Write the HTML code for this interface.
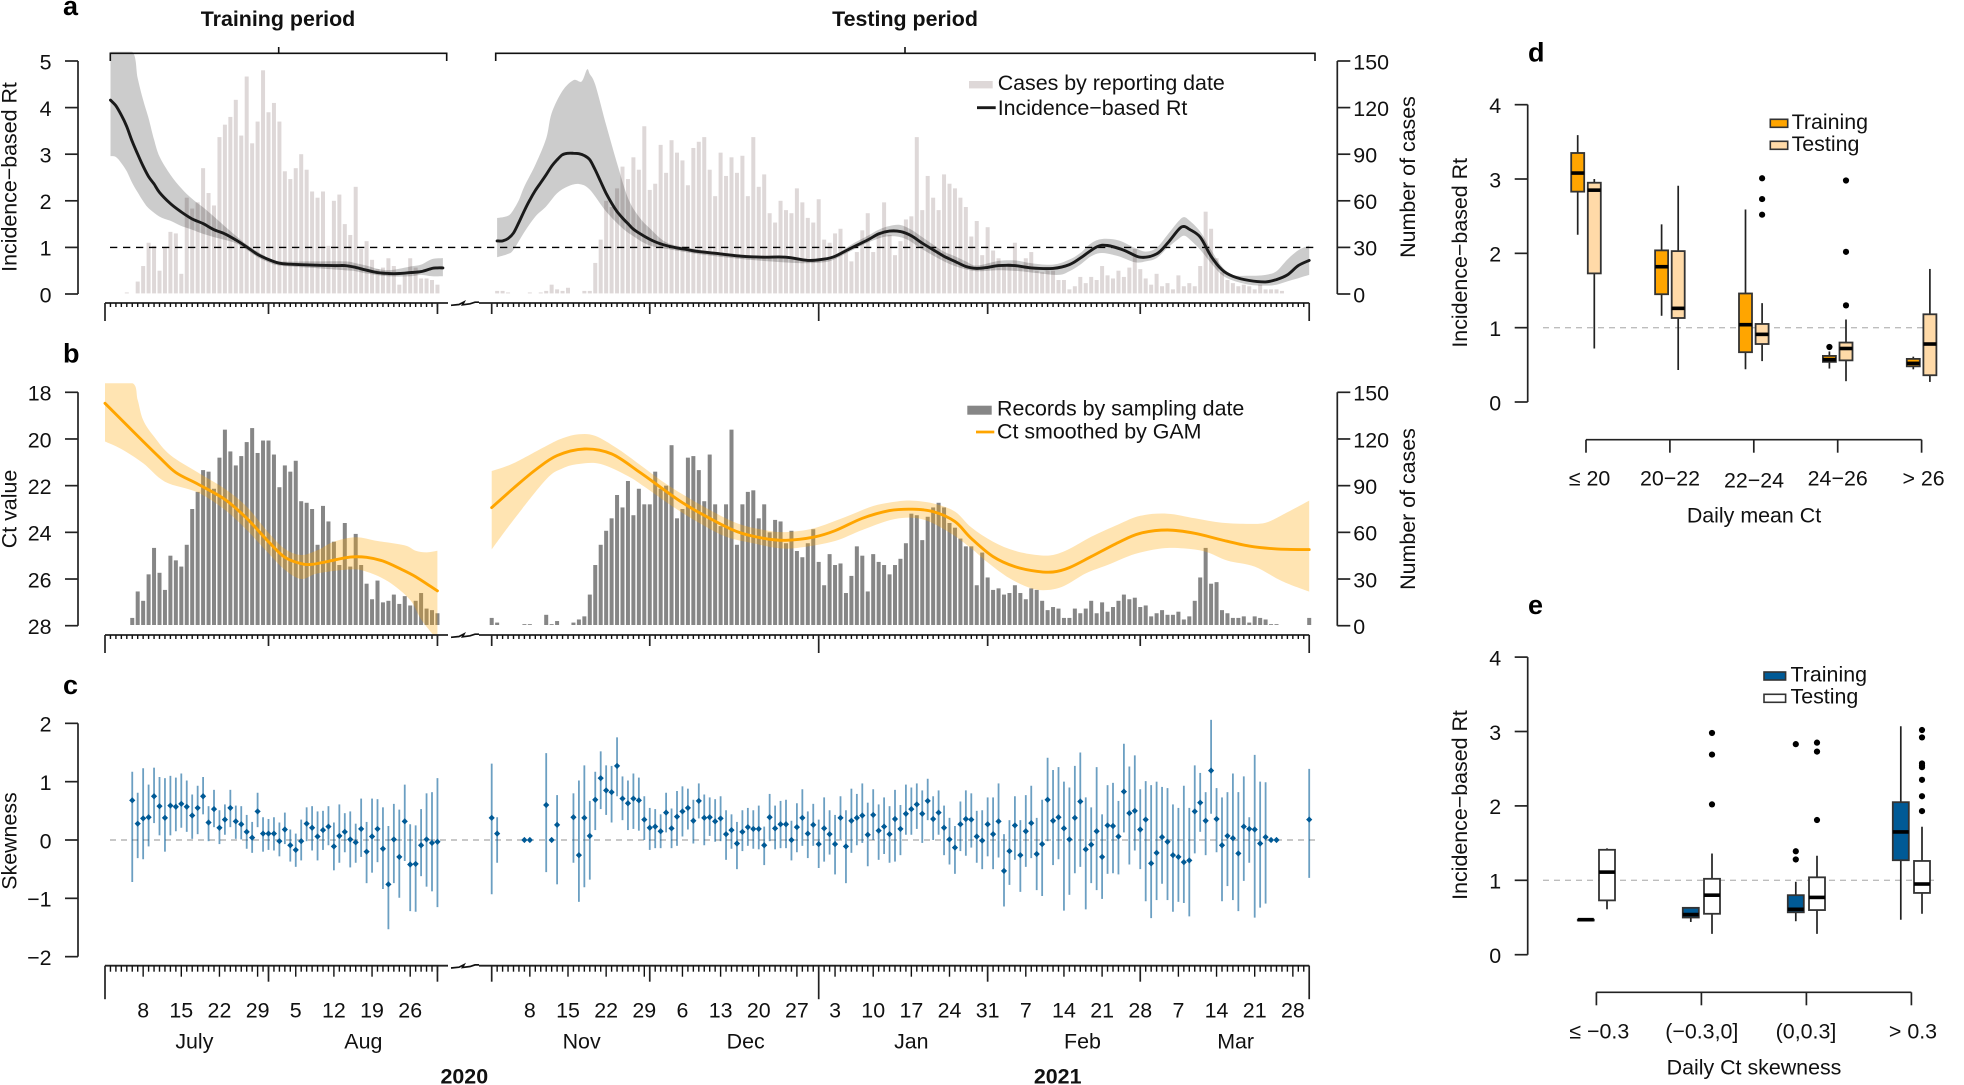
<!DOCTYPE html>
<html lang="en">
<head>
<meta charset="utf-8">
<title>Ct value and incidence-based Rt chart</title>
<style>
html,body{margin:0;padding:0;background:#fff;}
svg{display:block;font-family:"Liberation Sans",Arial,sans-serif;}
text{fill:#111;font-size:21.4px;}
.b{font-weight:bold;}
.p{font-weight:bold;font-size:27px;fill:#000;}
</style>
</head>
<body>
<svg id="chart" xmlns="http://www.w3.org/2000/svg" width="1964" height="1085" viewBox="0 0 1964 1085">
<defs>
<clipPath id="clipA"><rect x="90" y="51.7" width="1240" height="250"/></clipPath>
<clipPath id="clipB"><rect x="90" y="383.3" width="1240" height="251.7"/></clipPath>
</defs>
</svg>
<script>
// ---------- panel a: daily reported cases (index = days since period start)
const casesTrain=[0,0,0,0,1,0,8,18,33,31,15,30,40,39,13,62,55,59,81,65,57,101,109,114,125,102,140,97,111,144,117,123,111,79,74,81,90,80,66,62,66,31,60,64,45,38,69,29,34,22,16,17,23,18,6,12,23,17,10,10,9,6];
const casesTest=[0,2,2,1,0,0,0,1,0,1,2,6,3,2,4,0,0,2,2,20,35,60,56,68,82,74,88,80,108,67,71,96,78,99,91,86,70,94,98,101,80,63,91,76,88,78,89,63,101,69,77,52,46,60,54,52,68,59,49,46,61,35,33,39,42,27,21,27,41,52,27,38,59,38,25,34,48,50,101,54,76,62,54,77,71,68,62,56,37,47,25,43,28,23,19,20,33,17,23,27,15,14,15,15,9,9,3,5,11,7,11,9,18,12,10,15,11,17,29,16,10,6,13,5,7,3,12,5,7,5,18,53,42,23,14,9,7,5,6,5,3,6,3,3,3,2];
// Rt curves, training period
const rtTrainDays=[1,2,3,4,5,6,7,8,9,10,12,14,16,18,20,22,24,26,28,30,32,34,38,42,44,46,48,50,52,54,56,58,60,61,62];
const rtTrainMean=[4.16,4.04,3.84,3.59,3.27,3.0,2.74,2.52,2.36,2.18,1.94,1.76,1.61,1.51,1.38,1.29,1.16,1.01,.85,.74,.66,.64,.62,.61,.61,.57,.51,.46,.44,.44,.46,.48,.55,.56,.56];
const rtTrainHiDays=[1,5,6,7,8,9,10,12,14,16,18,20,22,24,26,28,30,32,38,44,46,48,50,52,54,56,58,60,62];
const rtTrainHi=[5.2,5.2,4.63,4.16,3.77,3.31,2.95,2.56,2.27,2.04,1.86,1.66,1.45,1.25,1.06,.91,.77,.70,.70,.70,.66,.61,.54,.51,.54,.59,.63,.75,.77];
const rtTrainLoDays=[1,2,3,4,5,6,7,8,10,12,14,16,18,20,22,24,26,28,30,32,38,44,46,48,52,56,58,60,62];
const rtTrainLo=[2.96,2.94,2.81,2.63,2.38,2.18,1.99,1.84,1.66,1.57,1.46,1.38,1.29,1.22,1.16,1.09,.95,.79,.68,.61,.56,.51,.49,.44,.38,.38,.41,.38,.38];
// Rt curves, testing period
const rtTestDays=[1,2,3,4,5,6,7,8,9,10,11,12,13,14,15,16,17,18,19,20,21,22,23,24,25,26,28,30,32,34,36,38,42,46,50,54,58,61,63,66,69,71,73,75,77,79,81,83,85,87,89,91,93,96,99,103,106,108,111,113,116,119,122,124,126,127,128,130,132,134,136,139,142,144,146,148,150];
const rtTestMean=[1.14,1.14,1.19,1.31,1.54,1.79,2.02,2.22,2.39,2.56,2.74,2.88,2.99,3.02,3.02,3.01,2.97,2.88,2.66,2.41,2.16,1.95,1.77,1.63,1.51,1.39,1.24,1.12,1.04,.99,.95,.91,.86,.81,.79,.79,.72,.75,.81,.99,1.16,1.29,1.35,1.34,1.25,1.09,.95,.81,.70,.59,.55,.57,.61,.61,.56,.55,.63,.77,1.01,1.04,.94,.79,.86,1.09,1.38,1.45,1.39,1.22,.81,.52,.38,.29,.26,.31,.41,.61,.72];
const rtTestHiDays=[1,3,4,5,6,8,10,11,13,15,16.5,17.5,18,19,21,23,25,27,29,32,36,42,50,54,58,61,63,66,69,71,73,75,77,79,81,83,85,87,89,93,96,99,103,106,108,110,112,115,118,120,122,124,126,127,128,130,132,134,136,139,142,144,146,148,150];
const rtTestHi=[1.63,1.68,1.81,2.02,2.31,2.77,3.34,3.88,4.36,4.59,4.56,4.82,4.72,4.49,3.63,2.81,2.06,1.66,1.41,1.11,.99,.89,.81,.81,.74,.77,.84,1.06,1.25,1.38,1.46,1.48,1.38,1.22,1.06,.91,.81,.70,.61,.71,.72,.66,.63,.74,.88,1.09,1.18,1.15,.99,.91,.99,1.27,1.56,1.65,1.58,1.34,.95,.59,.41,.39,.41,.49,.74,.94,1.04];
const rtTestLoDays=[1,3,4,6,8,10,12,14,16,18,21,24,26,29,33,39,45,51,57,61,63,66,70,73,76,79,83,86,89,93,97,100,104,106,108,110,112,115,118,120,122,124,126,127,128,130,132,134,136,139,142,144,146,148,150];
const rtTestLo=[.79,.86,.95,1.33,1.66,1.88,2.16,2.31,2.36,2.24,1.77,1.41,1.24,1.04,.95,.84,.76,.70,.66,.68,.75,.93,1.15,1.24,1.18,.96,.70,.56,.49,.51,.49,.45,.41,.49,.63,.81,.88,.81,.68,.70,.77,.99,1.18,1.25,1.18,.95,.66,.41,.29,.20,.18,.20,.27,.34,.41];
const rtTicks=[0,1,2,3,4,5];
const countTicks=[0,30,60,90,120,150];

// ---------- panel b: sampled records and GAM-smoothed Ct
const recordsTrain=[0,0,0,0,0,5,22,16,33,50,34,23,45,42,38,52,75,86,100,99,88,108,126,112,103,109,118,127,111,119,119,110,89,103,99,106,80,79,75,52,77,67,54,39,66,38,59,39,27,17,29,15,16,20,14,19,13,16,21,11,10,8];
const recordsTest=[5,2,0,0,0,0,1,1,0,0,7,1,3,0,0,2,4,6,20,39,52,61,69,84,76,93,71,88,78,78,99,88,90,116,69,75,108,109,100,80,110,78,64,78,126,52,78,86,87,69,78,60,68,67,53,61,48,44,53,62,41,26,46,39,40,21,32,51,45,22,46,41,39,33,39,43,53,72,71,55,70,76,79,76,66,63,56,51,51,26,47,31,23,24,20,21,26,21,17,24,23,16,10,12,11,5,5,11,8,11,16,8,15,9,12,16,20,17,18,12,13,6,8,10,7,7,9,4,6,16,31,50,27,28,10,8,5,5,6,2,6,5,4,1,1,0,0,0,0,0,5];
const ctTrainDays=[0,5,10,13,17,22,26,30,33,36,38,41,45,48,51,54,57,61];
const ctTrainMean=[18.47,19.64,20.79,21.44,21.93,22.59,23.40,24.4,25.07,25.34,25.37,25.24,25.06,25.07,25.23,25.54,25.90,26.51];
const ctTrainHiDays=[0,5,6,7,9,12,17,22,26,30,33,36,39,42,46,50,55,57,59,61];
const ctTrainHi=[17.6,17.6,18.33,19.19,19.9,20.69,21.43,22.14,22.9,24.01,24.71,24.97,24.76,24.4,24.21,24.37,24.56,24.79,24.86,24.79];
const ctTrainLoDays=[0,3,7,11,17,22,26,30,33,36,39,45,48,52,56,58,61];
const ctTrainLo=[20.11,20.43,21.04,21.83,22.29,23.04,23.9,24.9,25.61,26,25.76,25.59,25.69,26.11,26.9,27.73,28.61];
const ctTestDays=[0,4,8,12,17,22,27,31,35,40,45,50,54,59,63,68,73,77,81,85,88,92,96,100,103,106,110,115,119,124,129,134,139,144,150];
const ctTestMean=[22.94,22.11,21.33,20.71,20.43,20.64,21.4,22.07,22.73,23.4,23.97,24.26,24.34,24.21,23.93,23.4,23.07,23.01,23.11,23.54,24.26,25.04,25.47,25.67,25.7,25.51,25.04,24.43,24.04,23.9,24.04,24.33,24.59,24.71,24.74];
const ctTestHiDays=[0,4,10,13,16,19,23,27,31,35,40,45,50,54,59,65,70,74,77,81,85,88,92,96,100,103,106,110,115,119,124,129,134,139,142,145,150];
const ctTestHi=[21.37,21.04,20.3,19.97,19.8,19.87,20.4,21.07,21.76,22.37,23.04,23.61,23.9,23.99,23.83,23.33,22.87,22.69,22.64,22.76,23.11,23.79,24.4,24.79,24.97,24.97,24.71,24.19,23.66,23.29,23.2,23.4,23.59,23.64,23.59,23.26,22.64];
const ctTestLoDays=[0,4,10,13,16,20,25,28,33,38,43,48,53,57,63,68,74,79,84,88,91,95,99,102,105,109,113,118,123,127,131,135,140,145,150];
const ctTestLo=[24.73,23.47,21.73,21.26,21.07,21.07,21.59,22.04,22.86,23.59,24.19,24.47,24.69,24.64,24.37,23.9,23.43,23.44,24.01,24.69,25.29,25.97,26.4,26.47,26.3,25.76,25.4,24.93,24.69,24.69,24.83,25.21,25.47,26.09,26.54];
const ctTicks=[18,20,22,24,26,28];

// ---------- panel c: daily skewness with confidence limits (training starts at day 5)
const skewTrainMean=[.68,.28,.37,.39,.75,.58,.38,.59,.57,.62,.57,.42,.55,.75,.30,.53,.21,.35,.55,.32,.27,.14,.04,.49,.11,.11,.11,-.02,.18,-.09,-.17,-.02,.28,.21,.06,.17,.23,-.11,.07,.14,.01,-.04,.19,-.20,.06,.19,-.15,-.76,.01,-.29,.32,-.42,-.41,-.09,.01,-.05,-.03];
const skewTrainUpper=[1.17,.81,1.23,.95,1.24,1.08,1.06,1.10,1.07,1.14,1.02,.78,.93,1.08,.58,.86,.51,.61,.86,.59,.58,.43,.31,.81,.39,.36,.39,.30,.47,.18,.11,.35,.56,.58,.49,.50,.58,.30,.61,.46,.49,.28,.71,.31,.71,.70,.56,.24,.62,.52,.95,.27,.25,.53,.80,.82,1.06];
const skewTrainLower=[-.72,-.31,-.33,-.11,.29,.08,-.20,.08,.15,.21,.14,.02,.10,.44,-.02,.22,-.07,.09,.22,.02,.01,-.15,-.22,.22,-.20,-.17,-.18,-.28,-.07,-.37,-.46,-.35,-.02,-.18,-.35,-.17,-.09,-.52,-.39,-.21,-.47,-.39,-.29,-.74,-.56,-.38,-.84,-1.53,-.74,-.99,-.36,-1.22,-1.23,-.62,-.80,-.88,-1.15];
// testing period: index = day, null = no sample / no interval
const skewTestMean=[.38,.11,null,null,null,null,0,0,null,null,.60,0,.26,null,null,.39,-.26,.38,.07,.69,1.06,.85,.82,1.27,.71,.63,.71,.68,.35,.21,.23,.15,.47,.20,.40,.49,.55,.33,.67,.38,.39,.32,.37,.10,.17,-.06,.14,.22,.19,.19,-.09,.39,.20,.27,.27,0,.22,.38,.11,.26,-.07,.20,.10,-.07,.38,-.11,.33,.38,.42,.09,.43,.16,.23,.10,.36,.19,.45,.53,.61,.45,.67,.36,.47,.21,.01,-.13,.27,.36,.35,.06,-.01,.27,.10,.32,-.53,-.19,.25,-.26,.15,.29,-.24,-.07,.69,.33,.39,.20,.01,.38,.66,-.16,-.08,.15,-.29,.25,.24,.06,.83,.46,.50,.18,.35,-.40,-.22,.05,-.03,-.26,-.29,-.38,-.35,.49,.64,.33,1.19,.36,-.09,.07,.03,-.23,.23,.19,.18,-.06,.05,0,0,null,null,null,null,null,.35];
const skewTestUpper=[1.31,.39,null,null,null,null,null,null,null,null,1.49,null,.77,null,null,.80,1.02,1.28,.67,1.17,1.52,1.28,1.27,1.76,1.09,1.02,1.14,1.07,.75,.55,.53,.44,.81,.54,.84,.92,.88,.69,.97,.78,.73,.70,.75,.51,.44,.31,.51,.55,.51,.59,.23,.79,.59,.67,.69,.33,.63,.87,.49,.62,.35,.73,.51,.43,.75,.51,.88,.79,.97,.64,.87,.61,.73,.58,.86,.60,.95,.90,.97,.85,1.05,.75,.85,.59,.38,.24,.66,.85,.80,.50,.51,.73,.73,.97,.10,.34,.75,.34,.77,.93,.38,.69,1.41,1.20,1.25,1.00,.90,1.27,1.50,.73,.56,1.25,.44,.94,.98,.67,1.65,1.26,1.45,.87,1.01,.94,1.00,.91,.89,.61,.55,.93,.55,1.28,1.15,.82,2.06,.89,.73,.82,1.14,.82,1.09,.39,1.46,1.00,.99,null,null,null,null,null,null,null,1.22];
const skewTestLower=[-.93,-.39,null,null,null,null,null,null,null,null,-.55,null,-.76,null,null,-.39,-1.06,-.81,-.68,.17,.53,.43,.30,.75,.34,.17,.19,.16,0,-.17,-.14,-.14,.13,-.14,-.10,.06,.18,-.06,.37,-.09,.07,-.03,-.02,-.34,-.15,-.50,-.19,-.10,-.15,-.16,-.43,-.02,-.16,-.14,-.14,-.35,-.21,-.10,-.31,-.10,-.48,-.37,-.25,-.59,.01,-.74,-.22,-.09,-.05,-.45,0,-.34,-.24,-.39,-.37,-.26,.09,.09,.19,-.05,.34,0,.09,-.26,-.42,-.58,-.19,-.27,-.13,-.39,-.50,-.28,-.50,-.30,-1.14,-.77,-.34,-.89,-.46,-.31,-.86,-.96,-.02,-.43,-.33,-1.21,-.94,-.57,-.46,-1.19,-.74,-.86,-1.01,-.58,-.57,-.59,.13,-.42,-.18,-.50,-1.05,-1.34,-1.03,-.75,-1.03,-1.23,-1.06,-1.08,-1.31,-.23,.14,-.26,.45,-.21,-1.05,-.79,-1.03,-1.22,-.70,-.39,-1.33,-1.16,-1.09,null,null,null,null,null,null,null,-.65];
const skewTicks=[2,1,0,-1,-2];
// axis labels
const trainWeekDays=[7,14,21,28,35,42,49,56];
const trainWeekLabels=["8","15","22","29","5","12","19","26"];
const testWeekDays=[7,14,21,28,35,42,49,56,63,70,77,84,91,98,105,112,119,126,133,140,147];
const testWeekLabels=["8","15","22","29","6","13","20","27","3","10","17","24","31","7","14","21","28","7","14","21","28"];
const monthLabels=["July","Aug","Nov","Dec","Jan","Feb","Mar"];

// ---------- panels d/e: box statistics [whisker low, q1, median, q3, whisker high]
const boxRtTicks=[0,1,2,3,4];
const ctBins=["\u2264 20","20\u221222","22\u221224","24\u221226","> 26"];
const ctBoxTrain=[[2.25,2.83,3.08,3.35,3.59],[1.16,1.45,1.82,2.04,2.39],[.44,.67,1.04,1.46,2.59],[.45,.54,.57,.62,.68],[.44,.48,.52,.58,.61]];
const ctBoxTest=[[.72,1.73,2.85,2.95,3.0],[.43,1.13,1.26,2.03,2.91],[.55,.78,.91,1.05,1.33],[.28,.56,.72,.80,1.11],[.27,.36,.78,1.18,1.79]];
const ctOutTrain=[[],[],[],[.74],[]];
const ctOutTest=[[],[],[3.01,2.73,2.52],[2.98,2.02,1.30],[]];
const skewBins=["\u2264 \u22120.3","(\u22120.3,0]","(0,0.3]","> 0.3"];
const skBoxTrain=[[.46,.46,.47,.47,.47],[.44,.50,.54,.63,.64],[.45,.57,.61,.80,.98],[.47,1.27,1.65,2.05,3.07]];
const skBoxTest=[[.61,.73,1.11,1.41,1.43],[.28,.55,.80,1.02,1.36],[.28,.60,.77,1.04,1.33],[.55,.83,.95,1.26,1.72]];
const skOutTrain=[[],[],[2.83,1.39,1.28],[]];
const skOutTest=[[],[2.98,2.69,2.02],[2.85,2.73,1.81],[3.02,2.92,2.57,2.54,2.52,2.35,2.13,1.93]];

// ---------- axis functions
const xTrain=d=>105+5.45*d;
const xTest=d=>491.7+5.45*d;
const yRt=v=>294-46.6*v;
const yCountA=v=>294-233*v/150;
const yCt=v=>392.3+(v-18)*23.34;
const yCountB=v=>625.7-233.4*v/150;
const ySkew=v=>840-58.33*v;
const yBoxD=v=>402-74.33*v;
const yBoxE=v=>954.7-74.4*v;
const xD=i=>1586+83.9*i;
const xE=i=>1596.4+105*i;

const NS='http://www.w3.org/2000/svg';
const svg=document.getElementById('chart');
function mk(tag,a,parent){
  const e=document.createElementNS(NS,tag);
  for(const k in a)e.setAttribute(k,a[k]);
  (parent||svg).appendChild(e);
  return e;
}
function group(name){
  const g=mk('g',{});
  
  
  return g;
}
function line(p,x1,y1,x2,y2,name,w,col,dash){
  const a={x1:x1,y1:y1,x2:x2,y2:y2,stroke:col||'#222','stroke-width':w||1.7};
  if(dash)a['stroke-dasharray']=dash;
  const l=mk('line',a,p);
  
  
  return l;
}
function label(p,x,y,str,name,anchor,cls,rot){
  const a={x:x,y:y,'text-anchor':anchor||'start'};
  if(cls)a['class']=cls;
  if(rot)a.transform='rotate(-90 '+x+' '+y+')';
  const t=mk('text',a,p);
  t.textContent=str;
  
  
  return t;
}
function zip(days,vals,fx,fy){return days.map((d,i)=>[fx(d),fy(vals[i])]);}
function spline(pts,move){
  let s=(move===false?'L':'M')+pts[0][0].toFixed(1)+' '+pts[0][1].toFixed(1);
  for(let i=0;i<pts.length-1;i++){
    const p0=pts[Math.max(i-1,0)],p1=pts[i],p2=pts[i+1],p3=pts[Math.min(i+2,pts.length-1)];
    const c1x=p1[0]+(p2[0]-p0[0])/6,c1y=p1[1]+(p2[1]-p0[1])/6;
    const c2x=p2[0]-(p3[0]-p1[0])/6,c2y=p2[1]-(p3[1]-p1[1])/6;
    s+=' C'+c1x.toFixed(1)+' '+c1y.toFixed(1)+' '+c2x.toFixed(1)+' '+c2y.toFixed(1)+' '+p2[0].toFixed(1)+' '+p2[1].toFixed(1);
  }
  return s;
}
function band(p,hiPts,loPts,fill,op,clip,name){
  const d=spline(hiPts)+' '+spline(loPts.slice().reverse(),false)+' Z';
  const b=mk('path',{d:d,fill:fill,'fill-opacity':op,'clip-path':'url(#'+clip+')'},p);
  
  
}
function curve(p,pts,col,w,name){
  const c=mk('path',{d:spline(pts),fill:'none',stroke:col,'stroke-width':w,'stroke-linejoin':'round','stroke-linecap':'round'},p);
  
  
}
function bars(p,vals,fx,fy,base,col,name){
  vals.forEach((v,i)=>{
    if(!v)return;
    const r=mk('rect',{x:fx(i)-2,y:fy(v),width:4,height:Math.max(base-fy(v),0.5),fill:col},p);
    
    
  });
}
function yAxis(p,ticks,fy,xAxis,dir,fmt,name){
  const ys=ticks.map(fy);
  line(p,xAxis,Math.min.apply(null,ys),xAxis,Math.max.apply(null,ys),name+'-line',1.7);
  ticks.forEach((t,i)=>{
    line(p,xAxis,ys[i],xAxis+dir*13,ys[i],name+'-tick',1.7);
    const s=fmt?fmt(t):String(t);
    if(dir<0)label(p,xAxis-26.5,ys[i]+8.3,s,name+'-label','end');
    else label(p,xAxis+16,ys[i]+8.3,s,name+'-label','start');
  });
}
function timeAxis(p,y,minor,week,mid,long,name){
  line(p,105,y,448,y,name+'-line-2020',1.8);
  line(p,479,y,1309.2,y,name+'-line-2021',1.8);
  const brk=mk('path',{d:'M451 '+(y+2.3)+' L459 '+(y+1.5)+' L464 '+(y-1)+' L462.5 '+(y+1.8)+' L470 '+(y+0.8)+' L475 '+(y-0.8)+' L479 '+(y-0.8),fill:'none',stroke:'#111','stroke-width':1.7},p);
  
  
  for(let d=1;d<=61;d++)line(p,xTrain(d),y,xTrain(d),y+(trainWeekDays.includes(d)?week:minor),name+'-day-tick',1.4,'#111');
  for(let d=0;d<=150;d++)line(p,xTest(d),y,xTest(d),y+(testWeekDays.includes(d)?week:minor),name+'-day-tick',1.4,'#111');
  [30,61].forEach(d=>line(p,xTrain(d),y,xTrain(d),y+mid,name+'-month-tick',1.7));
  [0].forEach(d=>line(p,xTrain(d),y,xTrain(d),y+long,name+'-period-tick',1.7));
  [0,29,91,119].forEach(d=>line(p,xTest(d),y,xTest(d),y+mid,name+'-month-tick',1.7));
  [60,150].forEach(d=>line(p,xTest(d),y,xTest(d),y+long,name+'-period-tick',1.7));
}

// ---------- panel a
const gA=group('panel-a-incidence-rt');
label(gA,63,15,'a','panel-a-letter','start','p');
label(gA,278,26,'Training period','training-period-title','middle','b');
label(gA,905,26,'Testing period','testing-period-title','middle','b');
bars(gA,casesTrain,xTrain,yCountA,293.4,'#ded8d8','cases-bar-training');
bars(gA,casesTest,xTest,yCountA,293.4,'#ded8d8','cases-bar-testing');
band(gA,zip(rtTrainHiDays,rtTrainHi,xTrain,yRt),zip(rtTrainLoDays,rtTrainLo,xTrain,yRt),'#000',0.2,'clipA','rt-ci-band-training');
band(gA,zip(rtTestHiDays,rtTestHi,xTest,yRt),zip(rtTestLoDays,rtTestLo,xTest,yRt),'#000',0.2,'clipA','rt-ci-band-testing');
line(gA,110,yRt(1),1315,yRt(1),'rt-threshold-line',1.4,'#000','7.3 5.7');
curve(gA,zip(rtTrainDays,rtTrainMean,xTrain,yRt),'#1a1a1a',2.9,'rt-line-training');
curve(gA,zip(rtTestDays,rtTestMean,xTest,yRt),'#1a1a1a',2.9,'rt-line-testing');
const brA=mk('path',{d:'M110.3 61 V53.3 H446.7 V61 M278.7 53.3 V47',fill:'none',stroke:'#111','stroke-width':1.6},gA);


const brB=mk('path',{d:'M495.7 61 V53.3 H1315 V61 M905 53.3 V47',fill:'none',stroke:'#111','stroke-width':1.6},gA);


yAxis(gA,rtTicks,yRt,78,-1,null,'rt-axis');
yAxis(gA,countTicks,yCountA,1337.3,1,null,'cases-axis-a');
label(gA,16.7,177,'Incidence\u2212based Rt','rt-axis-title','middle',null,true);
label(gA,1415,177,'Number of cases','cases-axis-title-a','middle',null,true);
timeAxis(gA,303,4,4,11,18,'time-axis-a');
const swA=mk('rect',{x:969,y:81,width:23.7,height:7.4,fill:'#ded8d8'},gA);


label(gA,997.7,90,'Cases by reporting date','legend-label-cases');
line(gA,977,107.7,995.7,107.7,'legend-swatch-rt',2.8,'#1a1a1a');
label(gA,997.7,115,'Incidence\u2212based Rt','legend-label-rt');

// ---------- panel b
const gB=group('panel-b-ct-value');
label(gB,63,362.7,'b','panel-b-letter','start','p');
bars(gB,recordsTrain,xTrain,yCountB,625,'#868686','records-bar-training');
bars(gB,recordsTest,xTest,yCountB,625,'#868686','records-bar-testing');
band(gB,zip(ctTrainHiDays,ctTrainHi,xTrain,yCt),zip(ctTrainLoDays,ctTrainLo,xTrain,yCt),'#FFA500',0.3,'clipB','ct-ci-band-training');
band(gB,zip(ctTestHiDays,ctTestHi,xTest,yCt),zip(ctTestLoDays,ctTestLo,xTest,yCt),'#FFA500',0.3,'clipB','ct-ci-band-testing');
curve(gB,zip(ctTrainDays,ctTrainMean,xTrain,yCt),'#FFA500',2.9,'ct-line-training');
curve(gB,zip(ctTestDays,ctTestMean,xTest,yCt),'#FFA500',2.9,'ct-line-testing');
yAxis(gB,ctTicks,yCt,78,-1,null,'ct-axis');
yAxis(gB,countTicks,yCountB,1337.3,1,null,'cases-axis-b');
label(gB,16.7,509,'Ct value','ct-axis-title','middle',null,true);
label(gB,1415,509,'Number of cases','cases-axis-title-b','middle',null,true);
timeAxis(gB,635,4,4,11,18,'time-axis-b');
const swB=mk('rect',{x:967.3,y:405.7,width:24.4,height:9,fill:'#868686'},gB);


label(gB,997,415.7,'Records by sampling date','legend-label-records');
line(gB,976,432,994.3,432,'legend-swatch-ct',2.8,'#FFA500');
label(gB,997,438.3,'Ct smoothed by GAM','legend-label-ct');

// ---------- panel c
const gC=group('panel-c-skewness');
label(gC,63,694,'c','panel-c-letter','start','p');
line(gC,110,ySkew(0),1315,ySkew(0),'skewness-zero-line',1.3,'#a8a8a8','6 5');
function skewMark(x,m,u,l){
  if(m===null)return;
  if(u!==null){
    const e=line(gC,x,ySkew(u),x,ySkew(l),'skewness-interval',1.8,'#005a96');
    e.setAttribute('stroke-opacity','0.58');
  }
  const yy=ySkew(m);
  const dot=mk('path',{d:'M'+x+' '+(yy-3.1)+' L'+(x+3.1)+' '+yy+' L'+x+' '+(yy+3.1)+' L'+(x-3.1)+' '+yy+' Z',fill:'#005a96'},gC);
  
  
}
skewTrainMean.forEach((m,i)=>skewMark(xTrain(i+5),m,skewTrainUpper[i],skewTrainLower[i]));
skewTestMean.forEach((m,i)=>skewMark(xTest(i),m,skewTestUpper[i],skewTestLower[i]));
yAxis(gC,skewTicks,ySkew,78,-1,t=>t<0?'\u2212'+(-t):String(t),'skewness-axis');
label(gC,16.7,841,'Skewness','skewness-axis-title','middle',null,true);
timeAxis(gC,965.7,6,11,16,33.5,'time-axis-c');
trainWeekDays.forEach((d,i)=>label(gC,xTrain(d),1017.7,trainWeekLabels[i],'date-label','middle'));
testWeekDays.forEach((d,i)=>label(gC,xTest(d),1017.7,testWeekLabels[i],'date-label','middle'));
const monthCenters=[xTrain(16.4),xTrain(47.4),xTest(16.5),xTest(46.6),xTest(77),xTest(108.4),xTest(136.5)];
monthLabels.forEach((m,i)=>label(gC,monthCenters[i],1048.7,m,'month-label','middle'));
label(gC,464.3,1083.7,'2020','year-label-2020','middle','b');
label(gC,1057.7,1083.7,'2021','year-label-2021','middle','b');

// ---------- panels d, e
function box(p,x,w,s,fy,fill,name){
  line(p,x,fy(s[4]),x,fy(s[0]),name+'-whisker',1.7,'#222');
  const r=mk('rect',{x:x-w/2,y:fy(s[3]),width:w,height:Math.max(fy(s[1])-fy(s[3]),0.5),fill:fill,stroke:'#333','stroke-width':1.8},p);
  
  
  line(p,x-w/2,fy(s[2]),x+w/2,fy(s[2]),name+'-median',3.6,'#000');
}
function outliers(p,x,vals,fy,name){
  vals.forEach(v=>{
    const c=mk('circle',{cx:x,cy:fy(v),r:3.1,fill:'#000'},p);
    
    
  });
}
function boxPanel(p,o){
  line(p,1543,o.fy(1),1938,o.fy(1),o.key+'-reference-line',1.3,'#bdbdbd','6 5');
  yAxis(p,boxRtTicks,o.fy,1527.7,-1,null,o.key+'-y-axis');
  o.train.forEach((s,i)=>{
    box(p,o.fx(i)-o.off,o.w,s,o.fy,o.trainFill,o.key+'-training');
    outliers(p,o.fx(i)-o.off,o.outTrain[i],o.fy,o.key+'-training');
    box(p,o.fx(i)+o.off,o.w,o.test[i],o.fy,o.testFill,o.key+'-testing');
    outliers(p,o.fx(i)+o.off,o.outTest[i],o.fy,o.key+'-testing');
  });
  const last=o.train.length-1;
  line(p,o.fx(0),o.axisY,o.fx(last),o.axisY,o.key+'-x-axis-line',1.7);
  o.train.forEach((s,i)=>{
    line(p,o.fx(i),o.axisY,o.fx(i),o.axisY+13,o.key+'-x-axis-tick',1.7);
    label(p,o.labelX[i],o.labelY[i],o.bins[i],o.key+'-x-axis-label','middle');
  });
}
const gD=group('panel-d-rt-by-ct');
label(gD,1528,61.7,'d','panel-d-letter','start','p');
boxPanel(gD,{key:'ct-box',fx:xD,fy:yBoxD,off:8.3,w:13,train:ctBoxTrain,test:ctBoxTest,outTrain:ctOutTrain,outTest:ctOutTest,trainFill:'#FFA500',testFill:'#FFDAA8',axisY:439.7,bins:ctBins,labelX:[1589.6,1670,1754,1837.7,1923.6],labelY:[485.7,485.7,487.7,485.7,485.7]});
label(gD,1467,252.8,'Incidence\u2212based Rt','ct-box-y-axis-title','middle',null,true);
label(gD,1754,522.3,'Daily mean Ct','ct-box-x-axis-title','middle');
const ld1=mk('rect',{x:1770.3,y:119.3,width:17.4,height:8,fill:'#FFA500',stroke:'#333','stroke-width':1.6},gD);


label(gD,1791.6,129,'Training','legend-label-training-d');
const ld2=mk('rect',{x:1770.3,y:141.3,width:17.4,height:8,fill:'#FFDAA8',stroke:'#333','stroke-width':1.6},gD);


label(gD,1791.6,151,'Testing','legend-label-testing-d');

const gE=group('panel-e-rt-by-skewness');
label(gE,1528,614,'e','panel-e-letter','start','p');
boxPanel(gE,{key:'skew-box',fx:xE,fy:yBoxE,off:10.6,w:16,train:skBoxTrain,test:skBoxTest,outTrain:skOutTrain,outTest:skOutTest,trainFill:'#005a96',testFill:'#ffffff',axisY:992.3,bins:skewBins,labelX:[1599.3,1701.8,1806,1913],labelY:[1038.3,1038.3,1038.3,1038.3]});
label(gE,1467,805,'Incidence\u2212based Rt','skew-box-y-axis-title','middle',null,true);
label(gE,1754,1074.3,'Daily Ct skewness','skew-box-x-axis-title','middle');
const le1=mk('rect',{x:1764,y:672,width:21.6,height:8,fill:'#005a96',stroke:'#333','stroke-width':1.6},gE);


label(gE,1790.5,681.7,'Training','legend-label-training-e');
const le2=mk('rect',{x:1764,y:694.3,width:21.6,height:8,fill:'#fff',stroke:'#333','stroke-width':1.6},gE);


label(gE,1790.5,703.7,'Testing','legend-label-testing-e');
</script>
</body>
</html>
